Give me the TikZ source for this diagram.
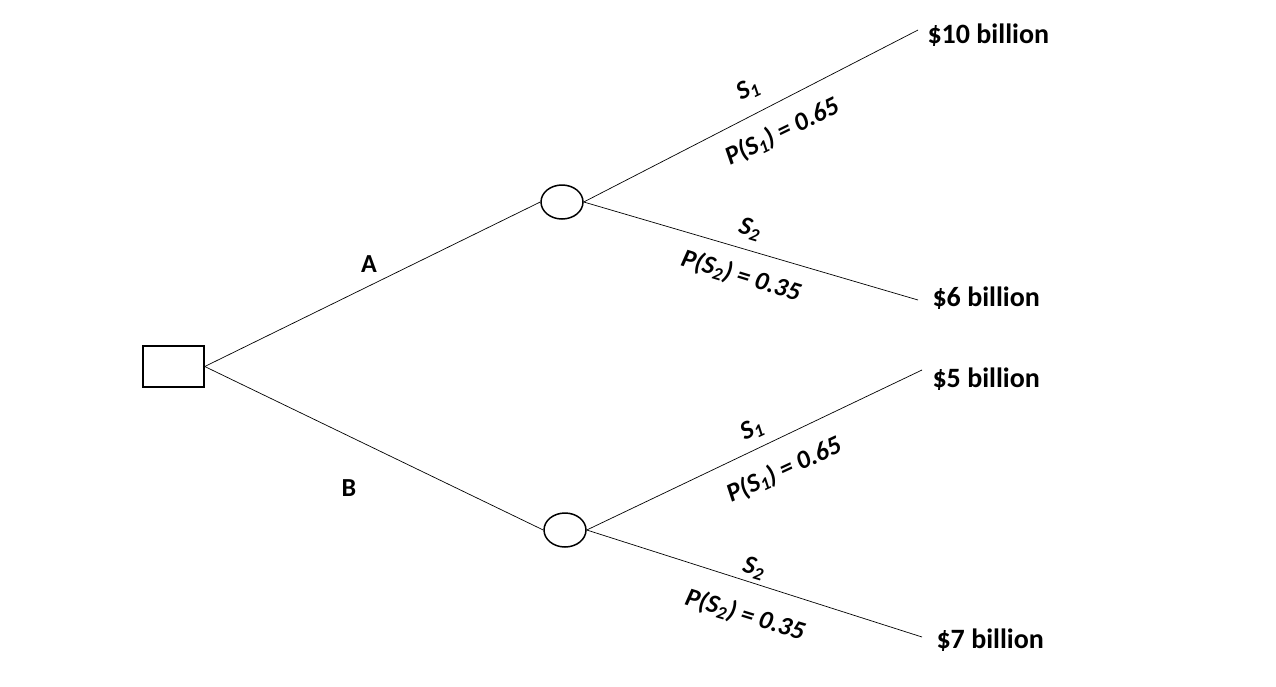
\documentclass[tikz,border=0pt]{standalone}
\usepackage{fontspec}
\setmainfont{Carlito}
\usetikzlibrary{shapes.geometric}
\begin{document}
\begin{tikzpicture}[x=1pt,y=-1pt,
  dec/.style={draw,line width=1.5pt,minimum width=61pt,minimum height=41pt,inner sep=0pt},
  chance/.style={draw,line width=1.5pt,ellipse,minimum width=42pt,minimum height=34pt,inner sep=0pt},
  br/.style={line width=0.7pt},
  pay/.style={font=\fontsize{28}{30}\selectfont\bfseries,anchor=west},
  lab/.style={font=\fontsize{26}{28}\selectfont\bfseries\itshape,inner sep=0pt},
  lbl/.style={font=\fontsize{26}{28}\selectfont\bfseries}]
\useasboundingbox (0,0) rectangle (1276,686);
\node[dec] (d) at (173.5,366.5) {};
\node[chance] (c1) at (562,202) {};
\node[chance] (c2) at (565,530) {};
\coordinate (e1) at (918,30);
\coordinate (e2) at (918,300);
\coordinate (e3) at (922,370);
\coordinate (e4) at (922,637);
\draw[br] (d.east) -- (c1.west);
\draw[br] (d.east) -- (c2.west);
\draw[br] (c1.east) -- (e1);
\draw[br] (c1.east) -- (e2);
\draw[br] (c2.east) -- (e3);
\draw[br] (c2.east) -- (e4);
\node[pay] (p1) at (924,35) {\$10 billion};
\node[pay] (p2) at (929,298) {\$6 billion};
\node[pay] (p3) at (929,379) {\$5 billion};
\node[pay] (p4) at (933,640) {\$7 billion};
\node[lbl] (la) at (369,264) {A};
\node[lbl] (lb) at (349,488) {B};
\node[lab,rotate=26] (s11) at (748,90) {S\textsubscript{1}};
\node[lab,rotate=26] (q11) at (782,132) {P(S\textsubscript{1}) = 0.65};
\node[lab,rotate=-17] (s12) at (750,229) {S\textsubscript{2}};
\node[lab,rotate=-17] (q12) at (741,276) {P(S\textsubscript{2}) = 0.35};
\node[lab,rotate=25] (s21) at (752,430) {S\textsubscript{1}};
\node[lab,rotate=25] (q21) at (784,470) {P(S\textsubscript{1}) = 0.65};
\node[lab,rotate=-17] (s22) at (754,568) {S\textsubscript{2}};
\node[lab,rotate=-17] (q22) at (745,615) {P(S\textsubscript{2}) = 0.35};
\end{tikzpicture}
\end{document}
